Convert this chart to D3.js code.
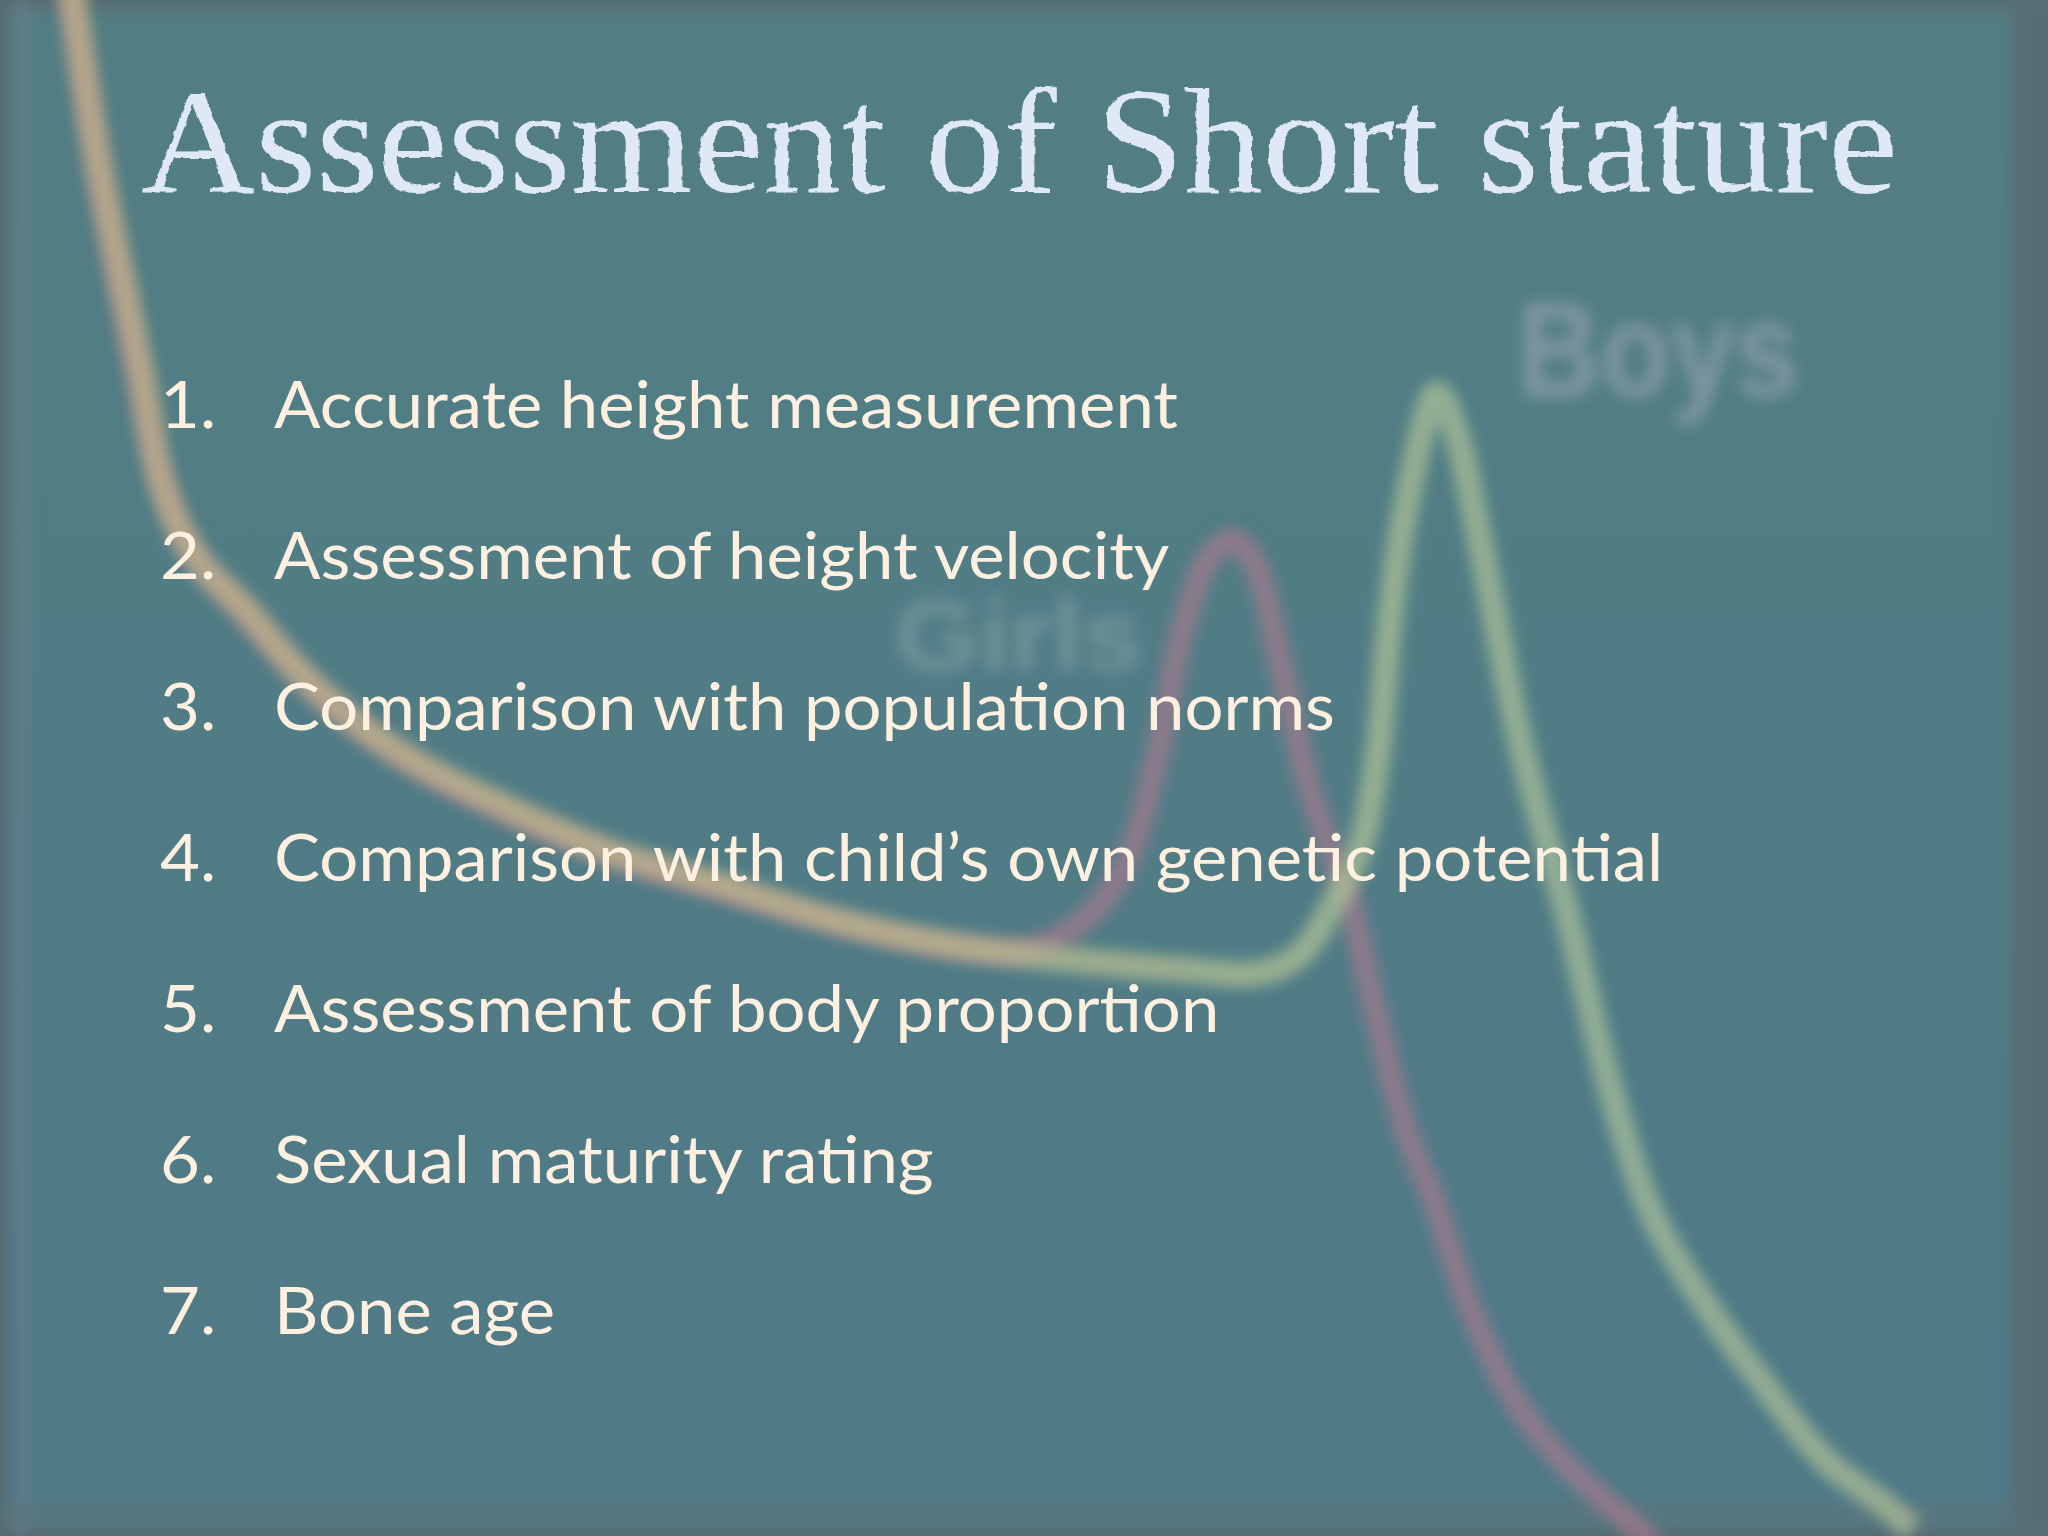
<!DOCTYPE html>
<html>
<head>
<meta charset="utf-8">
<script src="https://cdn.jsdelivr.net/npm/d3@7"></script>
<style>
  html, body { margin: 0; padding: 0; background: #507b86; overflow: hidden; }
  svg { display: block; }
</style>
</head>
<body>
<svg id="slide"></svg>
<script>
const W = 2048, H = 1536;

// slide text
const titleText = "Assessment of Short stature";
const itemNumbers = ["1.", "2.", "3.", "4.", "5.", "6.", "7."];
const itemTexts = [
    "Accurate height measurement",
    "Assessment of height velocity",
    "Comparison with population norms",
    "Comparison with child\u2019s own genetic potential",
    "Assessment of body proportion",
    "Sexual maturity rating",
    "Bone age"
];

// background chart: height velocity (cm/yr) against age (years)
const boysAge = [0.6, 0.82, 1.05, 1.35, 1.5, 1.65, 1.85, 2.1, 2.45, 3.04, 3.63, 4.22, 5.04, 6.0, 7.11, 8.22, 9.33,
    10.43, 11.55, 12.29, 12.66, 13.0, 13.26, 13.42, 13.55, 13.71, 14.0, 14.18, 14.43, 14.81, 15.26, 15.7,
    16.08, 16.52, 17.15, 17.78, 18.29, 18.6];
const boysVel = [14.8, 13.45, 12.12, 10.79, 10.12, 9.35, 8.85, 8.5, 8.19, 7.58, 7.12, 6.78, 6.42, 6.05, 5.75, 5.44, 5.23,
    5.11, 5.02, 4.99, 5.14, 5.59, 6.09, 6.84, 8.09, 9.09, 10.03, 9.7, 8.68, 6.98, 5.5, 3.91,
    2.89, 2.21, 1.42, 0.73, 0.39, 0.15];

const girlsAge = [0.6, 0.85, 1.1, 1.4, 1.7, 2.05, 2.5, 3.1, 3.7, 4.3, 5.1, 6.05, 7.15, 8.25, 9.3, 10.07, 10.65,
    11.0, 11.3, 11.55, 11.8, 12.02, 12.24, 12.48, 12.77, 13.16, 13.42, 13.71, 13.97, 14.29, 14.75, 15.26, 15.81, 16.1];
const girlsVel = [14.6, 13.2, 11.8, 10.4, 9.2, 8.55, 8.1, 7.5, 7.05, 6.7, 6.35, 6.0, 5.7, 5.42, 5.22, 5.2, 5.5,
    5.95, 6.9, 8.0, 8.6, 8.76, 8.54, 7.71, 6.58, 5.59, 4.59, 3.59, 3.02, 2.15, 1.28, 0.7, 0.26, 0.02];

const seriesLabels = ["Boys", "Girls"];

const svg = d3.select("#slide")
    .attr("width", W)
    .attr("height", H)
    .attr("viewBox", `0 0 ${W} ${H}`);

const defs = svg.append("defs");

// blur filters for the faded chart behind the text
function addBlur(id, sd) {
    defs.append("filter")
        .attr("id", id)
        .attr("filterUnits", "userSpaceOnUse")
        .attr("x", -200).attr("y", -200)
        .attr("width", W + 400).attr("height", H + 400)
        .append("feGaussianBlur")
        .attr("stdDeviation", sd);
}
addBlur("blurLine", 7);
addBlur("blurLabel", 8);
addBlur("blurEdge", 9);

// rough edges for the title, papyrus like
const rough = defs.append("filter").attr("id", "rough")
    .attr("x", "-5%").attr("y", "-20%").attr("width", "110%").attr("height", "140%");
rough.append("feTurbulence")
    .attr("type", "fractalNoise")
    .attr("baseFrequency", 0.09)
    .attr("numOctaves", 2)
    .attr("seed", 3)
    .attr("result", "noise");
rough.append("feDisplacementMap")
    .attr("in", "SourceGraphic")
    .attr("in2", "noise")
    .attr("scale", 4)
    .attr("xChannelSelector", "R")
    .attr("yChannelSelector", "G");

// background gradient
const bg = defs.append("linearGradient").attr("id", "bgGrad")
    .attr("x1", 0).attr("y1", 0).attr("x2", 0).attr("y2", 1);
bg.append("stop").attr("offset", "0%").attr("stop-color", "#527e83");
bg.append("stop").attr("offset", "100%").attr("stop-color", "#4f7a87");

// boys curve changes from yellow to pale green along the age axis
const boysGrad = defs.append("linearGradient").attr("id", "boysGrad")
    .attr("gradientUnits", "userSpaceOnUse")
    .attr("x1", 0).attr("y1", 0).attr("x2", W).attr("y2", 0);
boysGrad.append("stop").attr("offset", "0%").attr("stop-color", "#c2b78a");
boysGrad.append("stop").attr("offset", "45%").attr("stop-color", "#c3bd8e");
boysGrad.append("stop").attr("offset", "65%").attr("stop-color", "#aec396");
boysGrad.append("stop").attr("offset", "80%").attr("stop-color", "#a8c09c");
boysGrad.append("stop").attr("offset", "100%").attr("stop-color", "#b4bd90");

svg.append("rect")
    .attr("width", W).attr("height", H)
    .attr("fill", "url(#bgGrad)");

// scales for the background chart
const x = d3.scaleLinear().domain([0, 18]).range([-12, 1851]);
const y = d3.scaleLinear().domain([0, 13.45]).range([1547, 0]);

const chart = svg.append("g").attr("class", "chart");

// faint chart frame and axes
chart.append("rect")
    .attr("x", -12).attr("y", -12)
    .attr("width", W + 24).attr("height", H + 24)
    .attr("fill", "none")
    .attr("stroke", "#596b70")
    .attr("stroke-width", 40)
    .attr("filter", "url(#blurEdge)");

chart.append("line")
    .attr("x1", 22).attr("x2", 22)
    .attr("y1", 0).attr("y2", H)
    .attr("stroke", "#6e8090")
    .attr("stroke-width", 10)
    .attr("opacity", 0.7)
    .attr("filter", "url(#blurLine)");

chart.append("line")
    .attr("x1", 0).attr("x2", W)
    .attr("y1", 1512).attr("y2", 1512)
    .attr("stroke", "#5f757a")
    .attr("stroke-width", 14)
    .attr("opacity", 0.8)
    .attr("filter", "url(#blurLine)");

chart.append("rect")
    .attr("x", 2012).attr("y", 0)
    .attr("width", 60).attr("height", H)
    .attr("fill", "#566e73")
    .attr("filter", "url(#blurLine)");

// series labels
chart.append("text")
    .attr("x", 1517).attr("y", 397)
    .attr("font-family", "'Liberation Sans', Arial, sans-serif")
    .attr("font-weight", "bold")
    .attr("font-size", 136)
    .attr("textLength", 282)
    .attr("lengthAdjust", "spacingAndGlyphs")
    .attr("fill", "#8a9dab")
    .attr("opacity", 0.85)
    .attr("filter", "url(#blurLabel)")
    .text(seriesLabels[0]);

chart.append("text")
    .attr("x", 895).attr("y", 670)
    .attr("font-family", "'Liberation Sans', Arial, sans-serif")
    .attr("font-weight", "bold")
    .attr("font-size", 100)
    .attr("textLength", 248)
    .attr("lengthAdjust", "spacingAndGlyphs")
    .attr("fill", "#809ca7")
    .attr("opacity", 0.75)
    .attr("filter", "url(#blurLabel)")
    .text(seriesLabels[1]);

const line = d3.line()
    .x(d => x(d[0]))
    .y(d => y(d[1]))
    .curve(d3.curveCatmullRom.alpha(0.5));

const girls = d3.zip(girlsAge, girlsVel);
const boys = d3.zip(boysAge, boysVel);

chart.append("path")
    .datum(girls)
    .attr("d", line)
    .attr("fill", "none")
    .attr("stroke", "#b27a90")
    .attr("stroke-width", 24)
    .attr("stroke-linejoin", "round")
    .attr("opacity", 0.62)
    .attr("filter", "url(#blurLine)");

chart.append("path")
    .datum(boys)
    .attr("d", line)
    .attr("fill", "none")
    .attr("stroke", "url(#boysGrad)")
    .attr("stroke-width", 26)
    .attr("stroke-linejoin", "round")
    .attr("opacity", 0.72)
    .attr("filter", "url(#blurLine)");

// title
svg.append("text")
    .attr("x", 141).attr("y", 192)
    .attr("font-family", "'Liberation Serif', 'DejaVu Serif', serif")
    .attr("font-size", 150)
    .attr("textLength", 1757)
    .attr("lengthAdjust", "spacingAndGlyphs")
    .attr("fill", "#dfe8f5")
    .attr("filter", "url(#rough)")
    .text(titleText);

// numbered list
const list = svg.append("g")
    .attr("font-family", "Lato, 'Open Sans', sans-serif")
    .attr("font-size", 66)
    .attr("fill", "#fdf0e1");

const rows = list.selectAll("g.item")
    .data(itemTexts.map((t, i) => ({ num: itemNumbers[i], text: t })))
    .enter()
    .append("g")
    .attr("class", "item")
    .attr("transform", (d, i) => `translate(0, ${428 + i * 151})`);

rows.append("text")
    .attr("class", "num")
    .attr("x", 160)
    .text(d => d.num);

const bodies = rows.append("text")
    .attr("class", "body")
    .attr("x", 274)
    .text(d => d.text);

// squeeze Lato to the narrower width of the original body font
const firstWidth = bodies.node().getComputedTextLength();
const squeeze = 904 / firstWidth;
bodies.each(function () {
    const w = this.getComputedTextLength();
    d3.select(this)
        .attr("textLength", w * squeeze)
        .attr("lengthAdjust", "spacingAndGlyphs");
});
rows.select("text.num").each(function () {
    const w = this.getComputedTextLength();
    d3.select(this)
        .attr("textLength", w * squeeze)
        .attr("lengthAdjust", "spacingAndGlyphs");
});
</script>
</body>
</html>
